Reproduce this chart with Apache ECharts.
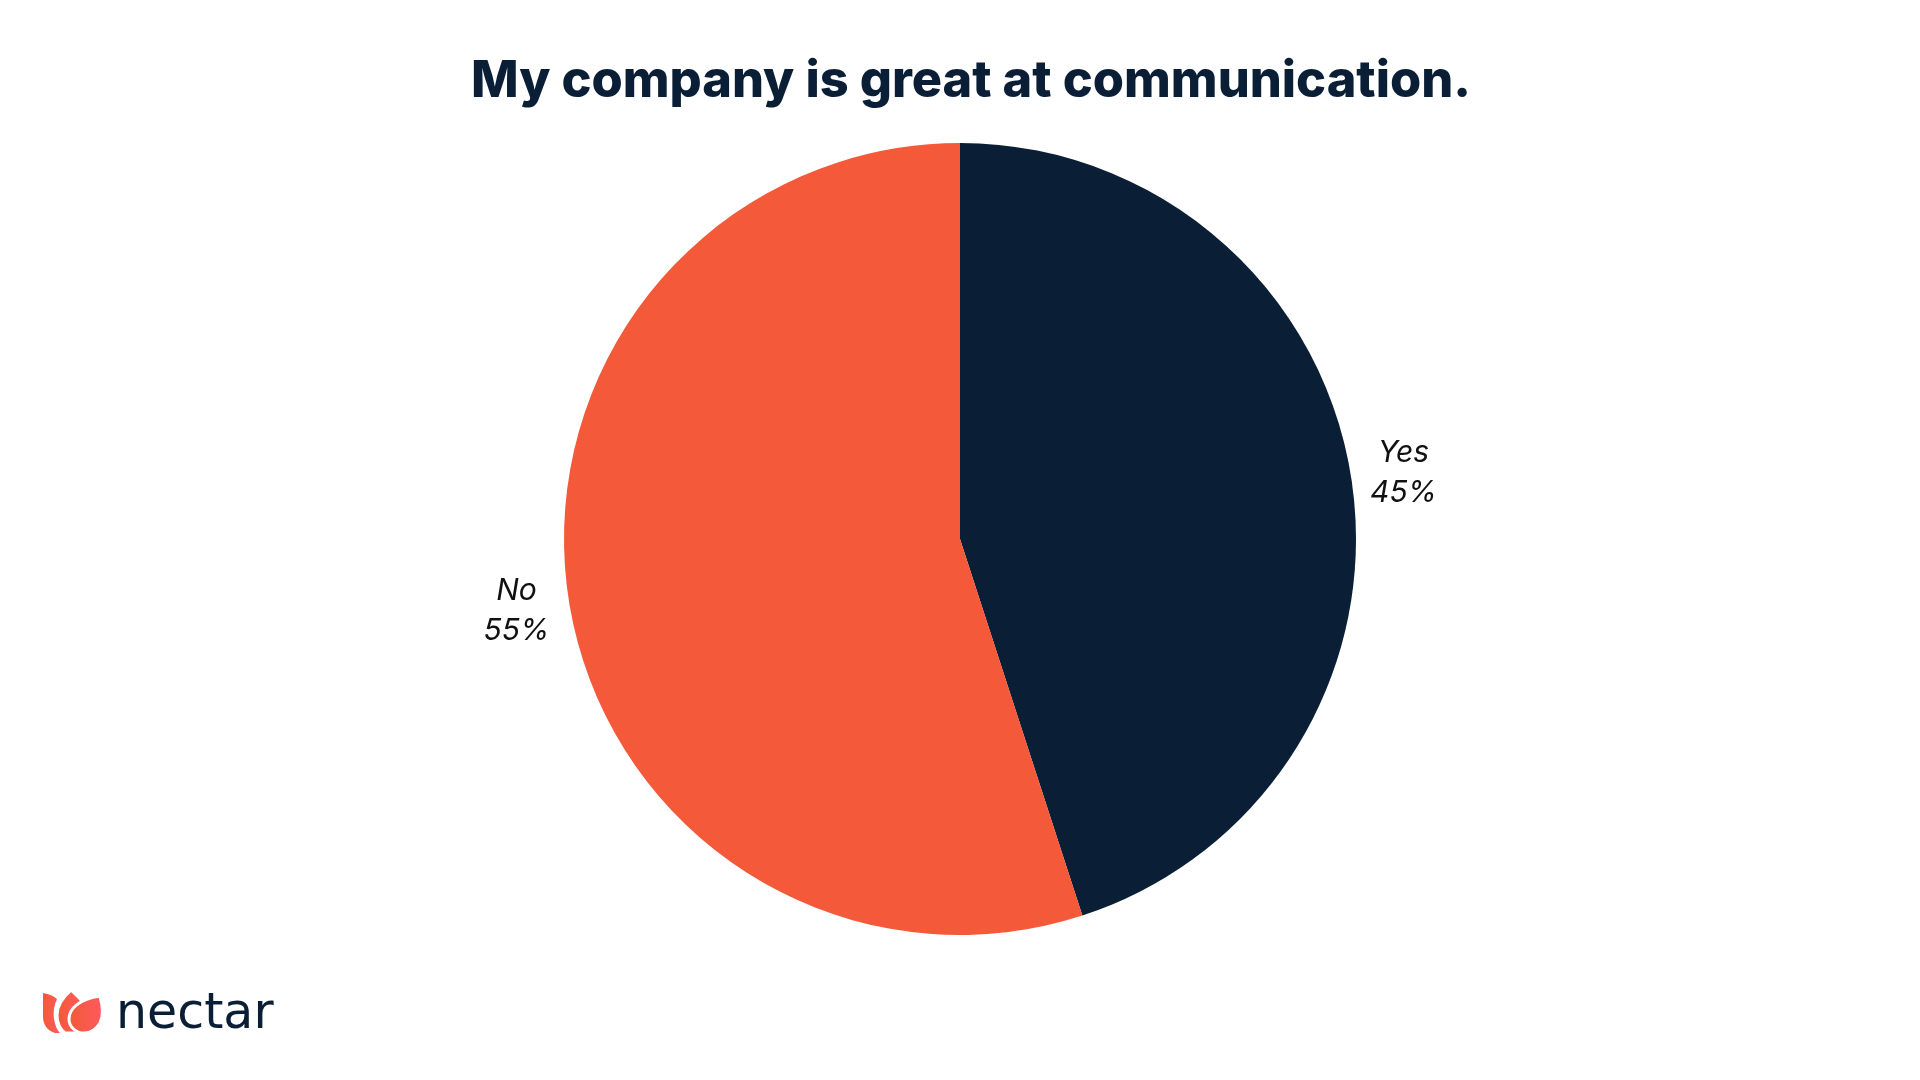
<!DOCTYPE html>
<html><head><meta charset="utf-8">
<script src="https://cdn.jsdelivr.net/npm/echarts@6/dist/echarts.min.js"></script>
<style>html,body{margin:0;padding:0;background:#fff}#c{width:1920px;height:1080px}</style>
</head><body><div id="c"></div>
<script>
const titleText = 'My company is great at communication.';
const categories = ['Yes', 'No'];
const values = [45, 55];
const colors = ['#0A1F36', '#F4593A'];

const logoSvg = '<svg xmlns="http://www.w3.org/2000/svg" width="62" height="48" viewBox="-2 -2 62 48">' +
  '<defs><linearGradient id="g" x1="0" y1="0" x2="1" y2="0"><stop offset="0" stop-color="#F15A36"/><stop offset="1" stop-color="#FF5A60"/></linearGradient></defs>' +
  '<path d="M0 4 C6 5 11 7 14 10 C11 16 10 23 11 30 C12 36 14 41 17 44 L12 44 C5 42 0 36 0 28 Z" fill="url(#g)"/>' +
  '<path d="M28 1 C33 6 38 10 40 14 L40 44 L22 44 C17 40 14 33 14 26 C14 16 20 8 28 1 Z" fill="url(#g)" stroke="#fff" stroke-width="3"/>' +
  '<path d="M57 7 C60 18 60 28 57 34 C53 41 47 44 41 44 C33 44 26 38 26 30 C26 20 36 10 57 7 Z" fill="url(#g)" stroke="#fff" stroke-width="3"/>' +
  '</svg>';

const chart = echarts.init(document.getElementById('c'), null, {renderer: 'canvas'});
chart.setOption({
  backgroundColor: '#ffffff',
  animation: false,
  title: {
    text: titleText,
    left: 966, top: 51, textAlign: 'center',
    textStyle: {fontFamily: 'Inter', fontWeight: 800, fontSize: 50.5, color: '#0A1F36'}
  },
  series: [{
    type: 'pie',
    center: [960, 539],
    radius: 396,
    startAngle: 90,
    clockwise: true,
    data: categories.map((c, i) => ({name: c, value: values[i], itemStyle: {color: colors[i]}})),
    label: {
      show: true, position: 'outside',
      formatter: p => p.name + '\n' + Math.round(p.percent) + '%',
      fontFamily: 'Inter', fontStyle: 'italic', fontSize: 30, lineHeight: 40, color: '#111111'
    },
    labelLine: {show: false, length: 48, length2: 0},
    labelLayout: function () { return {align: 'center', dy: 3}; },
    emphasis: {disabled: true}
  }],
  graphic: [{
    type: 'image', left: 41, top: 987,
    style: {image: 'data:image/svg+xml;charset=utf-8,' + encodeURIComponent(logoSvg), width: 62, height: 48}
  }, {
    type: 'text', left: 116, top: 991,
    style: {text: 'nectar', fontFamily: 'DejaVu Sans', fontWeight: 'normal', fontSize: 49, fill: '#0A1F36'}
  }]
});
</script></body></html>
